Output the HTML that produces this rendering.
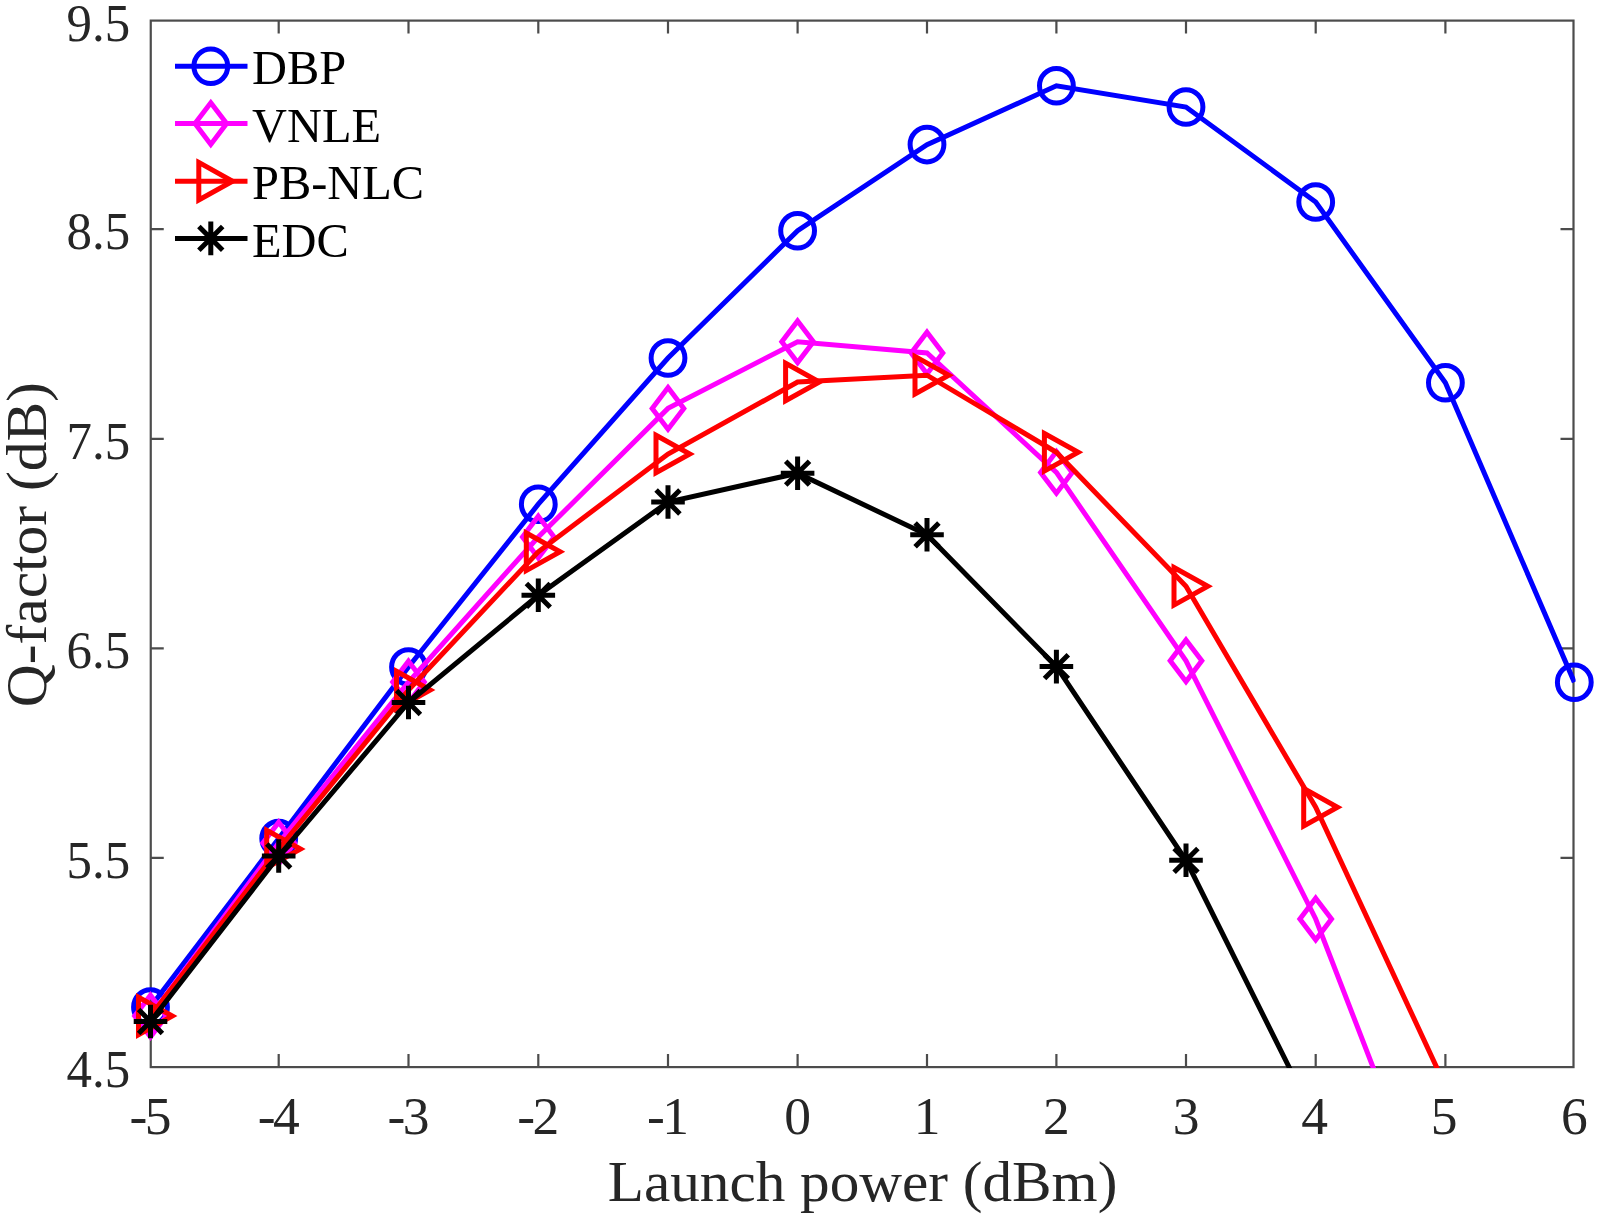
<!DOCTYPE html>
<html lang="en"><head><meta charset="utf-8"><title>Q-factor vs launch power</title>
<style>
html,body{margin:0;padding:0;background:#fff;}
body{width:1600px;height:1220px;overflow:hidden;}
svg{display:block;}
text{font-family:"Liberation Serif","Times New Roman",serif;}
.tk{font-size:53.5px;fill:#262626;}
.lb{font-size:57.8px;fill:#262626;}
.lg{font-size:48.4px;fill:#000;}
.s{fill:none;stroke-width:5.0;stroke-linejoin:miter;stroke-linecap:butt;}
</style></head><body>
<svg width="1600" height="1220" viewBox="0 0 1600 1220">
<rect width="1600" height="1220" fill="#fff"/>
<clipPath id="cp"><rect x="149.8" y="19.6" width="1425.8" height="1048.5"/></clipPath>
<!-- axes -->
<g stroke="#4c4c4c" stroke-width="2.2" fill="none">
<rect x="150.75" y="20.6" width="1422.75" height="1046.5"/>
<path d="M278.7,1067.1v-13M278.7,20.6v13M408.5,1067.1v-13M408.5,20.6v13M538.3,1067.1v-13M538.3,20.6v13M668.0,1067.1v-13M668.0,20.6v13M797.6,1067.1v-13M797.6,20.6v13M927.0,1067.1v-13M927.0,20.6v13M1056.4,1067.1v-13M1056.4,20.6v13M1186.0,1067.1v-13M1186.0,20.6v13M1315.7,1067.1v-13M1315.7,20.6v13M1445.4,1067.1v-13M1445.4,20.6v13M150.75,229.2h13M1573.5,229.2h-13M150.75,438.8h13M1573.5,438.8h-13M150.75,648.4h13M1573.5,648.4h-13M150.75,857.9h13M1573.5,857.9h-13"/>
</g>
<!-- DBP -->
<g class="s" stroke="#0000ff">
<polyline clip-path="url(#cp)" points="150.5,1007.0 278.7,838.5 408.5,667.0 538.3,504.2 668.0,358.0 797.6,230.7 927.0,144.6 1056.4,85.8 1186.0,107.0 1315.7,202.0 1445.4,382.8 1574.3,682.2"/>
<ellipse cx="150.5" cy="1007.0" rx="16.9" ry="17.3"/>
<ellipse cx="278.7" cy="838.5" rx="16.9" ry="17.3"/>
<ellipse cx="408.5" cy="667.0" rx="16.9" ry="17.3"/>
<ellipse cx="538.3" cy="504.2" rx="16.9" ry="17.3"/>
<ellipse cx="668.0" cy="358.0" rx="16.9" ry="17.3"/>
<ellipse cx="797.6" cy="230.7" rx="16.9" ry="17.3"/>
<ellipse cx="927.0" cy="144.6" rx="16.9" ry="17.3"/>
<ellipse cx="1056.4" cy="85.8" rx="16.9" ry="17.3"/>
<ellipse cx="1186.0" cy="107.0" rx="16.9" ry="17.3"/>
<ellipse cx="1315.7" cy="202.0" rx="16.9" ry="17.3"/>
<ellipse cx="1445.4" cy="382.8" rx="16.9" ry="17.3"/>
<ellipse cx="1574.3" cy="682.2" rx="16.9" ry="17.3"/>
</g>
<!-- VNLE -->
<g class="s" stroke="#ff00ff">
<polyline clip-path="url(#cp)" points="150.5,1016.0 278.7,843.0 408.5,682.0 538.3,537.0 668.0,408.4 797.6,341.7 927.0,353.0 1056.4,472.4 1186.0,660.8 1315.7,919.0 1377.6,1079.0"/>
<path d="M150.5,995.2l15.8,20.8l-15.8,20.8l-15.8,-20.8z"/>
<path d="M278.7,822.2l15.8,20.8l-15.8,20.8l-15.8,-20.8z"/>
<path d="M408.5,661.2l15.8,20.8l-15.8,20.8l-15.8,-20.8z"/>
<path d="M538.3,516.2l15.8,20.8l-15.8,20.8l-15.8,-20.8z"/>
<path d="M668.0,387.6l15.8,20.8l-15.8,20.8l-15.8,-20.8z"/>
<path d="M797.6,320.9l15.8,20.8l-15.8,20.8l-15.8,-20.8z"/>
<path d="M927.0,332.2l15.8,20.8l-15.8,20.8l-15.8,-20.8z"/>
<path d="M1056.4,451.6l15.8,20.8l-15.8,20.8l-15.8,-20.8z"/>
<path d="M1186.0,640.0l15.8,20.8l-15.8,20.8l-15.8,-20.8z"/>
<path d="M1315.7,898.2l15.8,20.8l-15.8,20.8l-15.8,-20.8z"/>
</g>
<!-- PB-NLC -->
<g class="s" stroke="#ff0000">
<polyline clip-path="url(#cp)" points="150.5,1016.0 278.7,849.0 408.5,690.0 538.3,551.8 668.0,454.0 797.6,382.0 927.0,375.2 1056.4,452.3 1186.0,586.3 1315.7,807.2 1442.1,1079.0"/>
<path d="M138.5,997.2l33.8,18.8l-33.8,18.8z"/>
<path d="M266.7,830.2l33.8,18.8l-33.8,18.8z"/>
<path d="M396.5,671.2l33.8,18.8l-33.8,18.8z"/>
<path d="M526.3,533.0l33.8,18.8l-33.8,18.8z"/>
<path d="M656.0,435.2l33.8,18.8l-33.8,18.8z"/>
<path d="M785.6,363.2l33.8,18.8l-33.8,18.8z"/>
<path d="M915.0,356.4l33.8,18.8l-33.8,18.8z"/>
<path d="M1044.4,433.5l33.8,18.8l-33.8,18.8z"/>
<path d="M1174.0,567.5l33.8,18.8l-33.8,18.8z"/>
<path d="M1303.7,788.4l33.8,18.8l-33.8,18.8z"/>
</g>
<!-- EDC -->
<g class="s" stroke="#000000">
<polyline clip-path="url(#cp)" points="150.5,1021.5 278.7,856.0 408.5,702.5 538.3,595.3 668.0,502.0 797.6,473.2 927.0,534.8 1056.4,666.6 1186.0,860.3 1295.0,1079.0"/>
<path d="M133.7,1021.5h33.6M150.5,1004.7v33.6M138.6,1009.6l23.8,23.8M138.6,1033.4l23.8,-23.8"/>
<path d="M261.9,856.0h33.6M278.7,839.2v33.6M266.8,844.1l23.8,23.8M266.8,867.9l23.8,-23.8"/>
<path d="M391.7,702.5h33.6M408.5,685.7v33.6M396.6,690.6l23.8,23.8M396.6,714.4l23.8,-23.8"/>
<path d="M521.5,595.3h33.6M538.3,578.5v33.6M526.4,583.4l23.8,23.8M526.4,607.2l23.8,-23.8"/>
<path d="M651.2,502.0h33.6M668.0,485.2v33.6M656.1,490.1l23.8,23.8M656.1,513.9l23.8,-23.8"/>
<path d="M780.8,473.2h33.6M797.6,456.4v33.6M785.7,461.3l23.8,23.8M785.7,485.1l23.8,-23.8"/>
<path d="M910.2,534.8h33.6M927.0,518.0v33.6M915.1,522.9l23.8,23.8M915.1,546.7l23.8,-23.8"/>
<path d="M1039.6,666.6h33.6M1056.4,649.8v33.6M1044.5,654.7l23.8,23.8M1044.5,678.5l23.8,-23.8"/>
<path d="M1169.2,860.3h33.6M1186.0,843.5v33.6M1174.1,848.4l23.8,23.8M1174.1,872.2l23.8,-23.8"/>
</g>
<g class="tk" text-anchor="middle">
<text x="150.5" y="1133.8">-<tspan dx="-2.5">5</tspan></text>
<text x="278.7" y="1133.8">-<tspan dx="-2.5">4</tspan></text>
<text x="408.5" y="1133.8">-<tspan dx="-2.5">3</tspan></text>
<text x="538.3" y="1133.8">-<tspan dx="-2.5">2</tspan></text>
<text x="668.0" y="1133.8">-<tspan dx="-2.5">1</tspan></text>
<text x="797.6" y="1133.8">0</text>
<text x="927.0" y="1133.8">1</text>
<text x="1056.4" y="1133.8">2</text>
<text x="1186.0" y="1133.8">3</text>
<text x="1314.5" y="1133.8">4</text>
<text x="1444.2" y="1133.8">5</text>
<text x="1574.3" y="1133.8">6</text>
</g>
<g class="tk" text-anchor="end">
<text x="130.2" y="40.6" textLength="63.6" lengthAdjust="spacingAndGlyphs">9.5</text>
<text x="130.2" y="249.2" textLength="63.6" lengthAdjust="spacingAndGlyphs">8.5</text>
<text x="130.2" y="458.8" textLength="63.6" lengthAdjust="spacingAndGlyphs">7.5</text>
<text x="130.2" y="668.4" textLength="63.6" lengthAdjust="spacingAndGlyphs">6.5</text>
<text x="130.2" y="877.9" textLength="63.6" lengthAdjust="spacingAndGlyphs">5.5</text>
<text x="130.2" y="1087.1" textLength="63.6" lengthAdjust="spacingAndGlyphs">4.5</text>
</g>
<text class="lb" text-anchor="middle" x="862.6" y="1201" textLength="509.5" lengthAdjust="spacingAndGlyphs">Launch power (dBm)</text>
<text class="lb" text-anchor="middle" transform="translate(45.6 544.7) rotate(-90)" textLength="325" lengthAdjust="spacingAndGlyphs">Q-factor (dB)</text>
<!-- legend -->
<g class="s" stroke="#0000ff"><path d="M175,66.2H247.5"/><ellipse cx="210.8" cy="66.2" rx="16.9" ry="17.3"/></g>
<text class="lg" x="252" y="84.4">DBP</text>
<g class="s" stroke="#ff00ff"><path d="M175,123.6H247.5"/><path d="M210.8,102.8l15.8,20.8l-15.8,20.8l-15.8,-20.8z"/></g>
<text class="lg" x="252" y="141.8">VNLE</text>
<g class="s" stroke="#ff0000"><path d="M175,181.2H247.5"/><path d="M198.8,162.4l33.8,18.8l-33.8,18.8z"/></g>
<text class="lg" x="252" y="199.4">PB-NLC</text>
<g class="s" stroke="#000000"><path d="M175,238.4H247.5"/><path d="M194.0,238.4h33.6M210.8,221.6v33.6M198.9,226.5l23.8,23.8M198.9,250.3l23.8,-23.8"/></g>
<text class="lg" x="252" y="256.6">EDC</text>
</svg>
</body></html>
